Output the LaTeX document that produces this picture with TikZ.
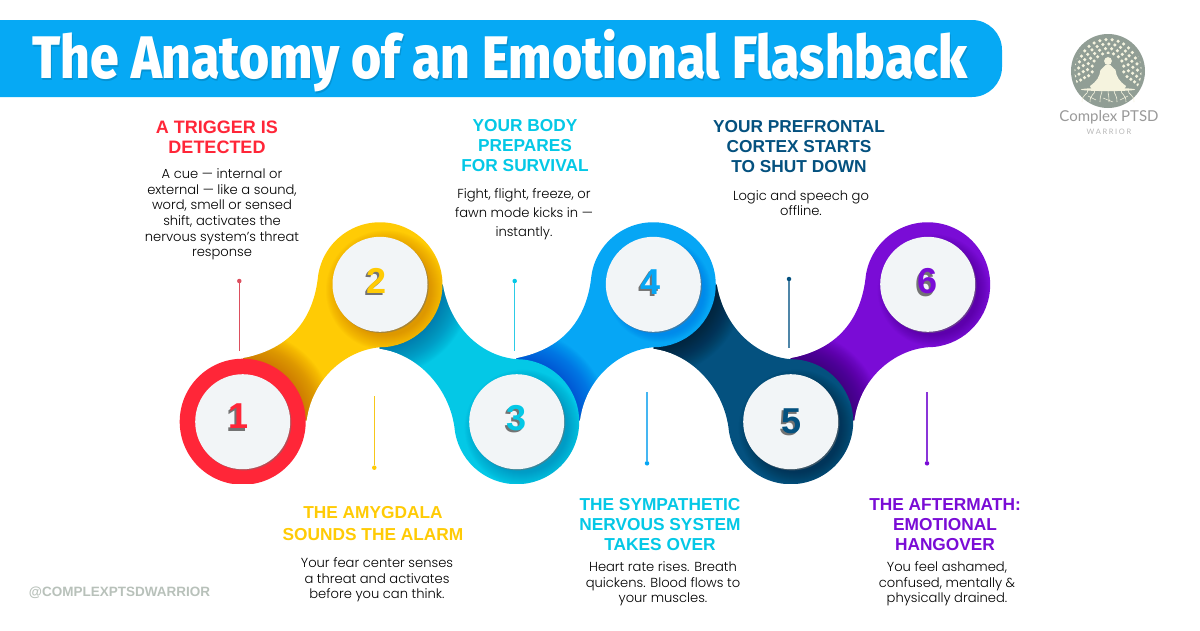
\documentclass[tikz,border=0pt]{standalone}
\usepackage{fontspec}
\usepackage{graphicx}
\setmainfont{Liberation Sans}
\newfontfamily\bodyf{Poppins Light}
\newfontfamily\titlef{Fira Sans ExtraBold}
\newfontfamily\logof{Lato}
\newfontfamily\logow[LetterSpace=22]{Lato}
\definecolor{cred}{HTML}{FF2638}
\definecolor{cyel}{HTML}{FFCB05}
\definecolor{ccya}{HTML}{04C8E6}
\definecolor{cblu}{HTML}{06A6F5}
\definecolor{cnav}{HTML}{04517F}
\definecolor{cpur}{HTML}{7A0CD6}
\definecolor{syel}{HTML}{BC5C00}
\definecolor{scya}{HTML}{00609A}
\definecolor{sblu}{HTML}{0038D0}
\definecolor{snav}{HTML}{011426}
\definecolor{spur}{HTML}{2C0060}
\definecolor{bannerc}{HTML}{06A9F4}
\definecolor{discc}{HTML}{F2F5F7}
\definecolor{logog}{HTML}{919E95}
\definecolor{leaf}{HTML}{F5F3DE}
\definecolor{handlec}{HTML}{B8C1BA}
\definecolor{lred}{HTML}{DC4F5E}
\definecolor{lyel}{HTML}{F7C71A}
\definecolor{lcya}{HTML}{2CCBE6}
\definecolor{lblu}{HTML}{45B6F2}
\definecolor{lnav}{HTML}{4F86A8}
\definecolor{lpur}{HTML}{8A35D8}
\tikzset{x=1pt,y=1pt,
  disc/.style={circle,fill=discc,minimum size=95pt,inner sep=0pt},
  digit/.style={font=\bfseries\fontsize{36}{36}\selectfont,inner sep=0pt},
  head/.style={font=\bfseries\fontsize{17.3}{20}\selectfont,align=center,inner sep=0pt},
  txt/.style={font=\bodyf\fontsize{13.1}{15.6}\selectfont,align=center,inner sep=0pt,text=black},
  leadline/.style={line width=1.1pt},
  leaddot/.style={circle,inner sep=0pt,minimum size=4.5pt},
  dotat/.style={leaddot,fill=#1},
  titletext/.style={anchor=base,inner sep=0pt}
}
% link rising from a lower circle to the circle at the origin
\newcommand\upPath{(-137,-74) .. controls (-95,-66) and (-68,-40) .. (-62.3,5)
  arc[start angle=175,end angle=-90,radius=62.5]
  .. controls (-35,-66) and (-68,-95) .. (-73.5,-136) -- (-137,-137) -- cycle}
% link falling from an upper circle to the circle at the origin
\newcommand\downPath{(-74,137) .. controls (-68,100) and (-40,66) .. (0,62.5)
  arc[start angle=90,end angle=-175,radius=62.5]
  .. controls (-68,35) and (-100,68) .. (-137,73) -- (-137,137) -- cycle}
\newcommand\softshadow[4]{% centre, colour, start radius, layers
  \foreach \k in {1,...,#4}{\fill[#2,opacity=.032] (#1) circle ({#3+\k});}}
\newcommand\titlestr{\scalebox{.861}[1]{\titlef\fontsize{60}{60}\selectfont The Anatomy of an Emotional Flashback}}
% numeral with its grey cast shadow, in one text
\newcommand\numeral[3]{\makebox[0pt][l]{\kern-#3pt\raisebox{-#3pt}{\textcolor{black!55}{#1}}}\textcolor{#2}{#1}}
\begin{document}
\begin{tikzpicture}
\useasboundingbox (0,0) rectangle (1200,-630);
\fill[white] (0,0) rectangle (1200,-630);

% banner and title
\fill[bannerc] (-5,-20) -- (972,-20) arc[start angle=90,end angle=0,radius=30] -- (1002,-67)
  arc[start angle=0,end angle=-90,radius=30] -- (-5,-97) -- cycle;
\node[titletext,text=black,opacity=.13] at (501,-80) {\titlestr};
\node[titletext,text=white] (title) at (500,-78) {\titlestr};

% centres of the six circles
\coordinate (c1) at (242.7,-421.7);
\coordinate (c2) at (380,-284.3);
\coordinate (c3) at (516.7,-421.7);
\coordinate (c4) at (653.3,-284.3);
\coordinate (c5) at (790.7,-421.7);
\coordinate (c6) at (927.7,-284.3);

\begin{scope}
\clip (0,-222.4) rectangle (1200,-483.6);
% 6: purple
\begin{scope}[shift={(c6)}]
  \fill[cpur] \upPath;
  \begin{scope}\clip \upPath;
    \softshadow{-137,-137.4}{spur}{62}{30}
    \softshadow{6,-6}{spur}{44}{12}
  \end{scope}
\end{scope}
% 5: navy
\begin{scope}[shift={(c5)}]
  \fill[cnav] \downPath;
  \begin{scope}\clip \downPath;
    \softshadow{-137.4,137.4}{snav}{62}{30}
    \softshadow{6,-6}{snav}{44}{14}
  \end{scope}
\end{scope}
% 4: blue
\begin{scope}[shift={(c4)}]
  \fill[cblu] \upPath;
  \begin{scope}\clip \upPath;
    \softshadow{-136.6,-137.4}{sblu}{62}{30}
    \softshadow{6,-6}{sblu}{44}{8}
  \end{scope}
\end{scope}
% 3: cyan
\begin{scope}[shift={(c3)}]
  \fill[ccya] \downPath;
  \begin{scope}\clip \downPath;
    \softshadow{-136.7,137.4}{scya}{62}{30}
    \softshadow{6,-6}{scya}{44}{14}
  \end{scope}
\end{scope}
% 2: yellow
\begin{scope}[shift={(c2)}]
  \fill[cyel] \upPath;
  \begin{scope}\clip \upPath;
    \softshadow{-137.3,-137.4}{syel}{62}{30}
    \softshadow{6,-6}{syel}{44}{16}
  \end{scope}
\end{scope}
% 1: red
\fill[cred] (c1) circle (63);
\end{scope}

% discs and numerals
\foreach \n/\col/\dx/\dy/\off in {1/cred/-3.7/4.2/2.6,2/cyel/-3/2.3/2.6,3/ccya/.3/2.7/2.6,4/cblu/-2.3/1.3/2.6,5/cnav/.4/-.4/1.4,6/cpur/0/1.8/2.6}{
  \node[disc,fill=black!55,opacity=.5] at ([shift={(1.2,-1.2)}]c\n) {};
  \node[disc] (d\n) at (c\n) {};
  \node[digit] at ([shift={(\dx,\dy)}]d\n.center) {\numeral{\n}{\col}{\off}};
}

% lead lines
\node[dotat=lred] (p1) at (239.3,-281) {};
\coordinate (q1) at (239.3,-350.7);
\draw[leadline,lred] (p1) -- (q1);
\node[dotat=cyel] (p2) at (374.3,-467.7) {};
\coordinate (q2) at (374.3,-395.7);
\draw[leadline,lyel] (p2) -- (q2);
\node[dotat=ccya] (p3) at (514.7,-281) {};
\coordinate (q3) at (514.7,-350.7);
\draw[leadline,lcya] (p3) -- (q3);
\node[dotat=cblu] (p4) at (647,-463.3) {};
\coordinate (q4) at (647,-391.7);
\draw[leadline,lblu] (p4) -- (q4);
\node[dotat=cnav] (p5) at (789,-279) {};
\coordinate (q5) at (789,-348.3);
\draw[leadline,lnav] (p5) -- (q5);
\node[dotat=cpur] (p6) at (927,-463.3) {};
\coordinate (q6) at (927,-391.7);
\draw[leadline,lpur] (p6) -- (q6);

% step texts
\node[head,text=cred,font=\bfseries\fontsize{18}{20}\selectfont] (h1) at (217,-137) {A TRIGGER IS\\DETECTED};
\node[txt] (t1) at (222,-214.5) {A cue — internal or\\external — like a sound,\\word, smell or sensed\\shift, activates the\\nervous system’s threat\\response};
\node[head,text=cyel,font=\bfseries\fontsize{17.3}{22}\selectfont] (h2) at (373,-524) {THE AMYGDALA\\SOUNDS THE ALARM};
\node[txt] (t2) at (377,-580) {Your fear center senses\\a threat and activates\\before you can think.};
\node[head,text=ccya] (h3) at (525,-145.5) {YOUR BODY\\PREPARES\\FOR SURVIVAL};
\node[txt,font=\bodyf\fontsize{13.1}{19}\selectfont] (t3) at (524,-214) {Fight, flight, freeze, or\\fawn mode kicks in —\\instantly.};
\node[head,text=ccya] (h4) at (660,-524.5) {THE SYMPATHETIC\\NERVOUS SYSTEM\\TAKES OVER};
\node[txt] (t4) at (663,-584) {Heart rate rises. Breath\\quickens. Blood flows to\\your muscles.};
\node[head,text=cnav] (h5) at (799,-146.5) {YOUR PREFRONTAL\\CORTEX STARTS\\TO SHUT DOWN};
\node[txt] (t5) at (801,-203) {Logic and speech go\\offline.};
\node[head,text=cpur] (h6) at (945,-524.5) {THE AFTERMATH:\\EMOTIONAL\\HANGOVER};
\node[txt] (t6) at (947,-584) {You feel ashamed,\\confused, mentally \&\\physically drained.};

% handle
\node[inner sep=0pt,text=handlec,font=\bfseries\fontsize{13.5}{14}\selectfont] (handle) at (119.5,-593) {@COMPLEXPTSDWARRIOR};

% logo
\begin{scope}[shift={(1108,-71)}]
  \fill[logog] (0,0) circle (37);
  \begin{scope}
    \clip (0,0) circle (33.5);
    \foreach \r/\a/\b/\s in {16/-10/190/20,20.5/-22/200/17,25/-24/204/14,29.5/-26/206/12,34/-28/208/10}{
      \foreach \t in {\a,\the\numexpr\a+\s\relax,...,\b}{
        \fill[leaf] (\t:\r) ++(0,2) circle (1.75);
      }
    }
  \end{scope}
  \fill[logog] (0,7) circle (10);
  \fill[leaf] (0,10) circle (3.9);
  \fill[leaf] (-1.8,6.5) .. controls (-3,4) and (-6,4) .. (-7.5,1)
     .. controls (-8.5,-6) and (-11,-10) .. (-18,-15)
     .. controls (-20,-18) and (-8,-19) .. (0,-19)
     .. controls (8,-19) and (20,-18) .. (18,-15)
     .. controls (11,-10) and (8.5,-6) .. (7.5,1)
     .. controls (6,4) and (3,4) .. (1.8,6.5) -- cycle;
  \fill[leaf] (0,-18.5) ellipse (27 and 1.6);
  \foreach \dx/\ex in {-20/-26,-13/-18,-6/-8,0/1,6/9,13/18,20/26}{
    \draw[leaf,line width=.6pt] (\dx,-19) .. controls (\dx,-24) and (\ex,-23) .. (\ex,-31);
  }
  \draw[leaf,line width=.5pt] (-20,-25) -- (-12,-29) (20,-25) -- (12,-29) (-5,-27) -- (5,-31);
\end{scope}
\node[inner sep=0pt,text=black!40,font=\logof\fontsize{15}{16}\selectfont] (logo1) at (1109,-117) {Complex PTSD};
\node[inner sep=0pt,text=black!28,font=\logow\fontsize{7.5}{8}\selectfont] (logo2) at (1109,-132) {WARRIOR};
\end{tikzpicture}
\end{document}
